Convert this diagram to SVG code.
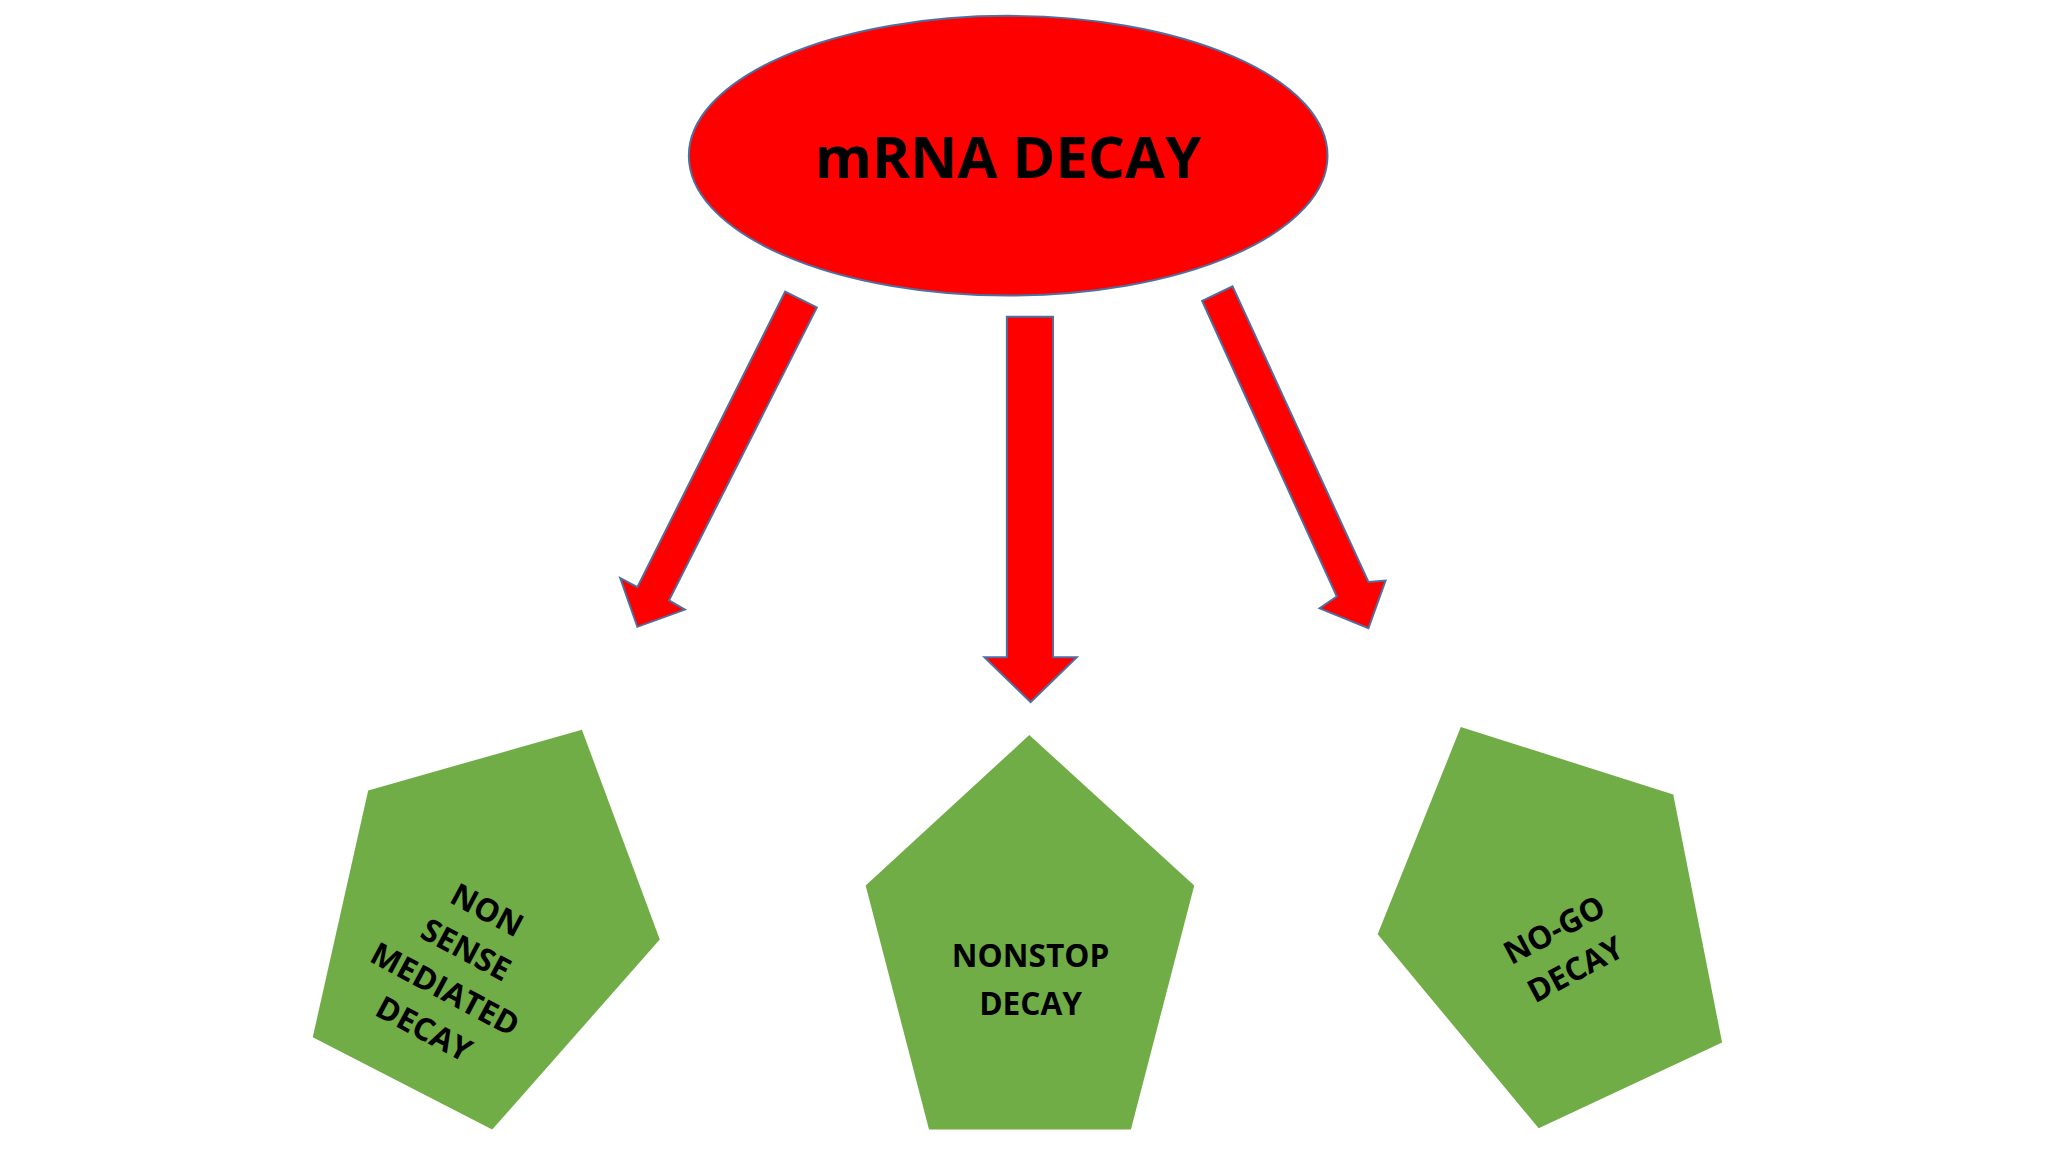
<svg xmlns="http://www.w3.org/2000/svg" width="2048" height="1152" viewBox="0 0 2048 1152">
<style>
.arr{fill:#ff0000;stroke:#4f6fa0;stroke-width:1.5}
.pent{fill:#70ad47}
.t{font-family:"Open Sans","Liberation Sans",sans-serif;font-weight:bold;fill:#000;text-anchor:middle}
</style>
<rect width="2048" height="1152" fill="#fff"/>
<g transform="scale(1.3196)">
<g id="root">
<ellipse cx="764" cy="118" rx="242" ry="106" fill="#ff0000" stroke="#4f6fa0" stroke-width="1.5"/>
<text class="t" x="764" y="135" font-size="44">mRNA DECAY</text>
</g>
<g id="connectors">
<polygon class="arr" points="595,221 619,233 507,455 519,462 483,475 470,438 483,445"/>
<polygon class="arr" points="763,240 798,240 798,498 816,498 781,532 746,498 763,498"/>
<polygon class="arr" points="911,228 934,217 1037,441 1050,440 1037,476 1000,461 1013,452"/>
</g>
<g id="nmd">
<polygon class="pent" points="279,599 441,553 500,712 373,856 237,786"/>
<g transform="rotate(28 345 735)" class="t" font-size="24">
<text x="345" y="692">NON</text>
<text x="345" y="726">SENSE</text>
<text x="345" y="760">MEDIATED</text>
<text x="345" y="794">DECAY</text>
</g>
</g>
<g id="nonstop">
<polygon class="pent" points="780,557 905,671 857,856 704,856 656,671"/>
<text class="t" x="781" y="733" font-size="24">NONSTOP</text>
<text class="t" x="781" y="769" font-size="24">DECAY</text>
</g>
<g id="nogo">
<polygon class="pent" points="1107,551 1268,602 1305,790 1166,855 1044,708"/>
<g transform="rotate(-28 1186 720)" class="t" font-size="24">
<text x="1186" y="711">NO-GO</text>
<text x="1186" y="745">DECAY</text>
</g>
</g>
</g>
</svg>
